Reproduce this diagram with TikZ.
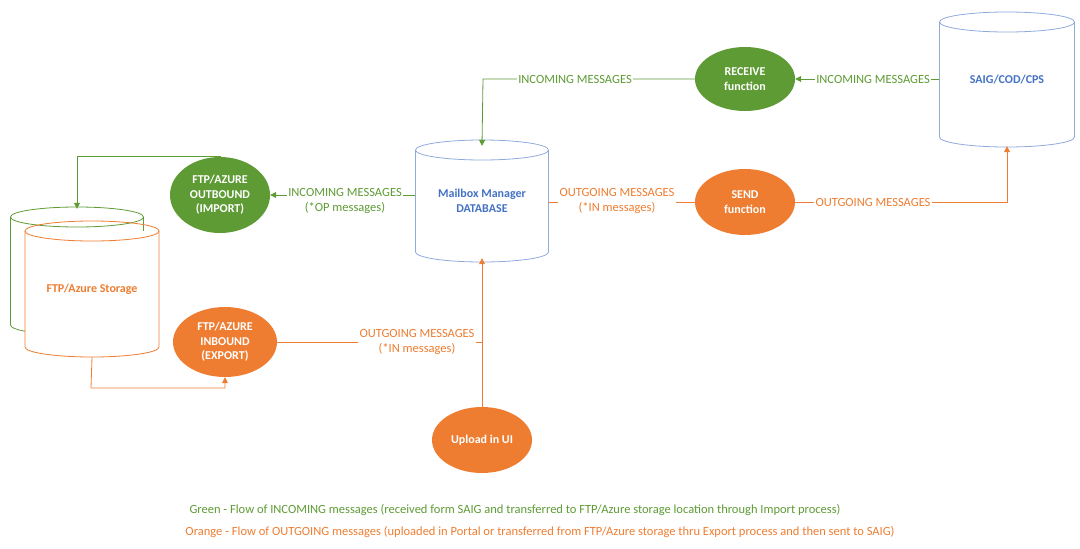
\documentclass[tikz,border=0pt]{standalone}
\usepackage{fontspec}
\setmainfont{Carlito}
\usetikzlibrary{shapes.geometric,arrows.meta}
\definecolor{gr}{HTML}{5E9B35}
\definecolor{og}{HTML}{EE7D31}
\definecolor{bl}{HTML}{4472C4}
\definecolor{bll}{HTML}{8FAADC}
% #1 cx, #2 top, #3 bottom, #4 width, #5 colour
\newcommand\mycyl[5]{%
  \fill[white] ({#1-#4/2},{#2+10}) rectangle ({#1+#4/2},{#3-10});
  \fill[white] (#1,{#3-10}) ellipse[x radius={#4/2},y radius=10];
  \draw[#5,line width=0.8pt] (#1,{#2+10}) ellipse[x radius={#4/2},y radius=10];
  \draw[#5,line width=0.8pt] ({#1-#4/2},{#2+10}) -- ({#1-#4/2},{#3-10})
     arc[start angle=180,end angle=0,x radius={#4/2},y radius=10] -- ({#1+#4/2},{#2+10});
}
\begin{document}
\begin{tikzpicture}[x=1pt,y=-1pt,
  box/.style={rectangle,inner sep=0pt,align=center,font=\bfseries\fontsize{12}{14.5}\selectfont},
  ell/.style={ellipse,inner sep=0pt,text=white,align=center,font=\bfseries\fontsize{12}{14.5}\selectfont},
  lab/.style={fill=white,inner sep=1.5pt,align=center,font=\fontsize{12.5}{15}\selectfont},
  con/.style={line width=0.8pt},
  arr/.style={con,-{Triangle[width=6pt,length=6pt]}}]
\useasboundingbox (0,0) rectangle (1080,549);
% cylinders
\mycyl{482}{140}{262}{133}{bll}
\node[box,text=bl,minimum width=133pt,minimum height=122pt] (db) at (482,201) {Mailbox Manager\\DATABASE};
\mycyl{1007}{12}{147}{135}{bll}
\node[box,text=bl,minimum width=135pt,minimum height=135pt] (saig) at (1007,79.5) {SAIG/COD/CPS};
\mycyl{77}{207}{335}{133}{gr}
\node[box,minimum width=133pt,minimum height=128pt] (st1) at (77,271) {};
\mycyl{92}{221}{357}{134}{og}
\node[box,text=og,minimum width=134pt,minimum height=136pt] (st2) at (92,289) {FTP/Azure Storage};
% ellipses
\node[ell,fill=gr,minimum width=100pt,minimum height=64pt] (rec) at (745,79) {RECEIVE\\function};
\node[ell,fill=og,minimum width=100pt,minimum height=66pt] (send) at (745,202) {SEND\\function};
\node[ell,fill=gr,minimum width=100pt,minimum height=76pt] (out) at (220,195) {FTP/AZURE\\OUTBOUND\\(IMPORT)};
\node[ell,fill=og,minimum width=104pt,minimum height=70pt] (inb) at (225,342) {FTP/AZURE\\INBOUND\\(EXPORT)};
\node[ell,fill=og,minimum width=100pt,minimum height=66pt] (up) at (482,440) {Upload in UI};
% coordinates
\coordinate (c1) at (483,79);
\coordinate (c2) at (1007,202);
\coordinate (c3) at (220,156);
\coordinate (c4) at (77,156);
\coordinate (c5) at (91,388);
\coordinate (c6) at (225,388);
\coordinate (c7) at (483,342);
% connectors
\draw[arr,gr] (rec.west) -- (c1) -- ([yshift=-6pt]db.north);
\node[lab,text=gr] at (575,79) {INCOMING MESSAGES};
\draw[arr,gr] (saig.west|-rec) -- (rec.east);
\node[lab,text=gr] at (873,79) {INCOMING MESSAGES};
\draw[arr,gr] (db.west|-out.east) -- (out.east);
\node[lab,text=gr] at (345,201) {INCOMING MESSAGES\\(*OP messages)};
\draw[arr,gr] (out.north) -- (c3) -- (c4) -- ([yshift=-2pt]st1.north);
\draw[con,og] (db.east|-send.west) -- (send.west);
\node[lab,text=og] at (617,201) {OUTGOING MESSAGES\\(*IN messages)};
\draw[arr,og] (send.east) -- (c2) -- ([yshift=1pt]saig.south);
\node[lab,text=og] at (873,202) {OUTGOING MESSAGES};
\draw[arr,og] (st2.south) -- (c5) -- (c6) -- (inb.south);
\draw[con,og] (inb.east) -- (c7);
\node[lab,text=og] at (417,342) {OUTGOING MESSAGES\\(*IN messages)};
\draw[arr,og] (up.north) -- ([yshift=4pt]db.south);
% legend
\node[text=gr,font=\fontsize{12.5}{15}\selectfont] (lg1) at (515,510) {Green - Flow of INCOMING messages (received form SAIG and transferred to FTP/Azure storage location through Import process)};
\node[text=og,font=\fontsize{12.5}{15}\selectfont] (lg2) at (540,532) {Orange - Flow of OUTGOING messages (uploaded in Portal or transferred from FTP/Azure storage thru Export process and then sent to SAIG)};
\end{tikzpicture}
\end{document}
